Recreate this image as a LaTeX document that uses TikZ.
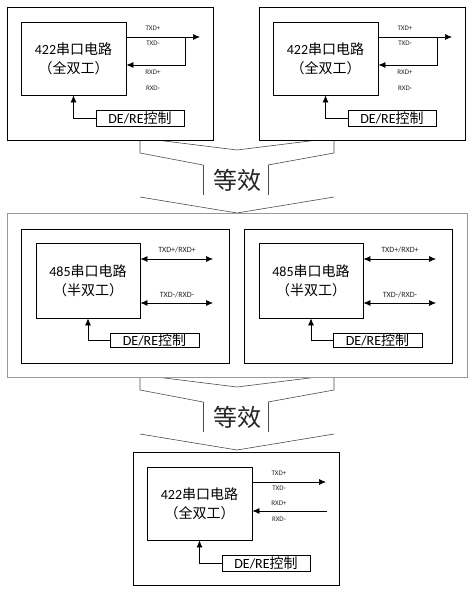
\documentclass[tikz,border=0pt]{standalone}
\usepackage{fontspec}
\setmainfont{Carlito}
\newfontfamily\cjk{Noto Sans CJK SC}
\usetikzlibrary{arrows.meta}

\begin{document}
\begin{tikzpicture}[
  x=1pt, y=-1pt,
  panel/.style={
    draw,
    fill=white,
    line width=0.9pt,
    inner sep=0pt
  },
  chip/.style={
    draw,
    line width=0.8pt,
    inner sep=0pt,
    minimum width=105pt,
    minimum height=73pt,
    align=center,
    font=\fontsize{14}{19}\selectfont
  },
  ctlbox/.style={
    draw,
    line width=0.8pt,
    inner sep=0pt,
    minimum width=88pt,
    minimum height=16pt,
    font=\fontsize{14}{14}\selectfont
  },
  sig/.style={
    line width=0.7pt,
    -{Latex[length=7pt,width=6pt]}
  },
  bisig/.style={
    line width=0.7pt,
    {Latex[length=7pt,width=6pt]}-{Latex[length=7pt,width=6pt]}
  },
  sigtag/.style={
    inner sep=0pt,
    text=black!85,
    font=\fontsize{7}{7}\selectfont
  },
  eqshape/.style={
    draw=black!70,
    line width=0.6pt
  },
]
\useasboundingbox (0,0) rectangle (474,593);

% the two "equivalent" block arrows
\foreach \dy in {0,237} {
  \begin{scope}[shift={(0,\dy)}]
    \draw[eqshape] (203,165) -- (140,153) -- (140,138) -- (237,150)
      -- (334,138) -- (334,153) -- (268,165);
    \draw[eqshape] (203,165) -- (203,195);
    \draw[eqshape] (268,165) -- (268,195);
    \draw[eqshape] (140,197) -- (237,213) -- (334,197);
    \node[font=\cjk\fontsize{24}{24}\selectfont, text=black!85] (eq\dy) at (237,180) {等效};
  \end{scope}
}

% full duplex 422 panels
\foreach \dx/\dy/\n/\ry in {0/0/a/72, 252/0/b/72, 126/445/c/58} {
  \begin{scope}[shift={(\dx,\dy)}]
    \node[panel, minimum width=206pt, minimum height=133pt] (fp\n) at (110,73.5) {};
    \node[chip] (fbox\n) at (73.5,58.5) {422{\cjk 串口电路}\\{\cjk （全双工）}};
    \coordinate (tx\n) at (200,37);
    \coordinate (tap\n) at (185,37);
    \coordinate (lp\n) at (185,65);
    \coordinate (rx\n) at (201,66);
    \draw[sig] (fbox\n.east |- tx\n) -- (tx\n);
    \node[sigtag] (tpa\n) at (153,28) {TXD+};
    \node[sigtag] (tma\n) at (153,43) {TXD-};
    \node[sigtag] (rpa\n) at (153,\ry) {RXD+};
    \node[sigtag] (rma\n) at (153,\ry+16) {RXD-};
    \node[ctlbox] (fctl\n) at (140,118) {DE/RE{\cjk 控制}};
    \draw[sig] (fctl\n.west) -| (fbox\n.south);
  \end{scope}
}
% loop back on the upper two, straight input on the lower one
\foreach \n in {a,b}
  \draw[sig] (tap\n) -- (lp\n) -- (fbox\n.east |- lp\n);
\draw[sig] (rxc) -- (fboxc.east |- rxc);

% half duplex 485 panels
\node[panel, draw=black!40, line width=0.9pt, minimum width=460pt, minimum height=164pt] (mid) at (237,295) {};
\foreach \dx/\n in {0/l, 223/r} {
  \begin{scope}[shift={(\dx,0)}]
    \node[panel, minimum width=208pt, minimum height=134pt] (hp\n) at (125,296) {};
    \node[chip, minimum width=104pt, minimum height=75pt] (hbox\n) at (88,280.5) {485{\cjk 串口电路}\\{\cjk （半双工）}};
    \coordinate (ha\n) at (213,259);
    \coordinate (hb\n) at (213,303);
    \draw[bisig] (hbox\n.east |- ha\n) -- (ha\n);
    \draw[bisig] (hbox\n.east |- hb\n) -- (hb\n);
    \node[sigtag, font=\fontsize{8}{8}\selectfont] (hta\n) at (177,250) {TXD+/RXD+};
    \node[sigtag, font=\fontsize{8}{8}\selectfont] (htb\n) at (177,295) {TXD-/RXD-};
    \node[ctlbox, minimum width=89pt, minimum height=14pt] (hctl\n) at (154.5,340) {DE/RE{\cjk 控制}};
    \draw[sig] (hctl\n.west) -| (hbox\n.south);
  \end{scope}
}
\end{tikzpicture}
\end{document}
